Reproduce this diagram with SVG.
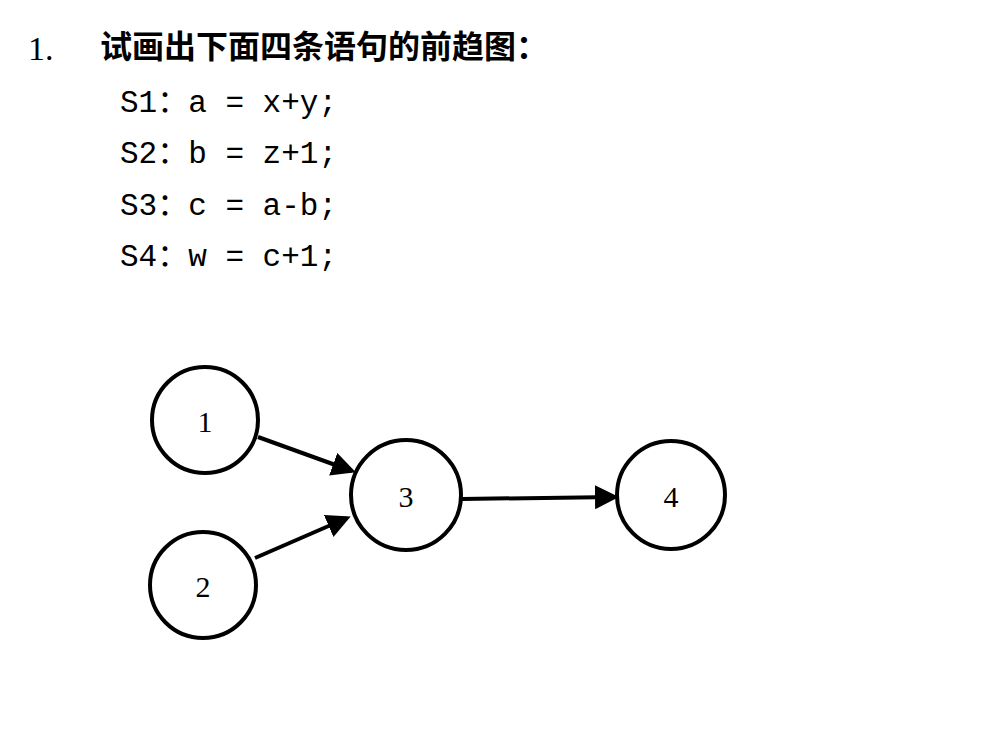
<svg xmlns="http://www.w3.org/2000/svg" width="987" height="729" viewBox="0 0 987 729">
<style>
.t{font-family:"Liberation Serif","Noto Sans CJK SC",serif;fill:#000}
.h{font-size:32px;font-weight:bold}
.c{font-family:"Liberation Mono","Noto Sans CJK SC",monospace;font-size:31px}
.n circle{fill:#fff;stroke:#000;stroke-width:4}
.n text{font-family:"Liberation Serif",serif;font-size:30px;text-anchor:middle}
.e line{stroke:#000;stroke-width:4;marker-end:url(#a)}
</style>
<defs><marker id="a" markerWidth="6" markerHeight="6" refX="5" refY="3" orient="auto"><path d="M0,0L6,3L0,6z" fill="#000"/></marker></defs>
<rect width="987" height="729" fill="#fff"/>
<text class="t" x="28" y="60" font-size="34">1.</text>
<text class="t h" x="100" y="58">试画出下面四条语句的前趋图：</text>
<text class="t c" x="120" y="112" xml:space="preserve">S1：a = x+y;</text>
<text class="t c" x="120" y="163" xml:space="preserve">S2：b = z+1;</text>
<text class="t c" x="120" y="215" xml:space="preserve">S3：c = a-b;</text>
<text class="t c" x="120" y="266" xml:space="preserve">S4：w = c+1;</text>
<g class="e">
<line x1="258" y1="437" x2="352" y2="471"/>
<line x1="255" y1="558" x2="347" y2="518"/>
<line x1="462" y1="499" x2="615" y2="497"/>
</g>
<g id="n1" class="n"><circle cx="205" cy="420" r="53"/><text x="205" y="432">1</text></g>
<g id="n2" class="n"><circle cx="203" cy="585" r="53"/><text x="203" y="597">2</text></g>
<g id="n3" class="n"><circle cx="406" cy="495" r="55"/><text x="406" y="507">3</text></g>
<g id="n4" class="n"><circle cx="671" cy="495" r="54"/><text x="671" y="507">4</text></g>
</svg>
